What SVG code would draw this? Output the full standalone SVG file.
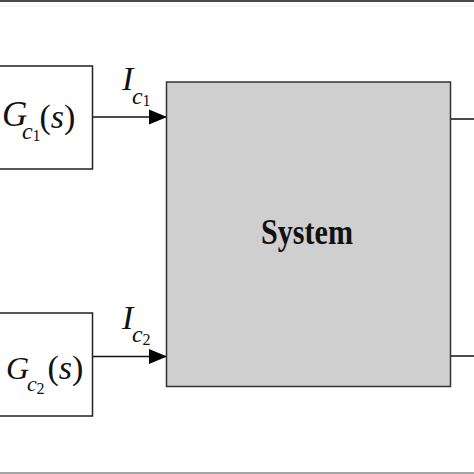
<svg xmlns="http://www.w3.org/2000/svg" width="474" height="474" viewBox="0 0 474 474">
<style>
.box{fill:#ffffff;stroke:#222222;stroke-width:1.5}
.sys{fill:#cfcfcf;stroke:#333333;stroke-width:1.5}
.wire{fill:none;stroke:#111111;stroke-width:1.5}
.t{font-family:"Liberation Serif","Times New Roman",serif;fill:#111111}
.i{font-style:italic}
.b{font-weight:bold}
</style>
<defs>
<marker id="arr" markerUnits="userSpaceOnUse" markerWidth="18" markerHeight="16" refX="17" refY="7.5" orient="auto" viewBox="0 0 18 15">
<path d="M0,0 L18,7.5 L0,15 Z" fill="#000000"/>
</marker>
</defs>
<rect x="0" y="0" width="474" height="474" fill="#ffffff"/>
<rect x="0" y="0" width="474" height="2" fill="#4a4a4a"/>
<rect x="0" y="5.5" width="474" height="1" fill="#f3f3f3"/>
<rect x="0" y="472" width="474" height="2" fill="#a6a6a6"/>

<g id="connectors">
<line class="wire" x1="92.5" y1="117" x2="166" y2="117" marker-end="url(#arr)"/>
<line class="wire" x1="92.5" y1="356.5" x2="166" y2="356.5" marker-end="url(#arr)"/>
<line class="wire" x1="450.5" y1="119" x2="474" y2="119"/>
<line class="wire" x1="450.5" y1="356" x2="474" y2="356"/>
<text id="label-ic1" class="t" x="122" y="90"><tspan class="i" font-size="34">I</tspan><tspan class="i" x="132" y="104" font-size="24">c</tspan><tspan x="142.5" y="106" font-size="16">1</tspan></text>
<text id="label-ic2" class="t" x="122" y="329"><tspan class="i" font-size="34">I</tspan><tspan class="i" x="132" y="342" font-size="24">c</tspan><tspan x="142.5" y="345" font-size="16">2</tspan></text>
</g>

<g id="gc1">
<rect class="box" x="-2" y="66" width="94.5" height="103"/>
<text class="t" x="2" y="126"><tspan class="i" font-size="35">G</tspan><tspan class="i" x="22" y="139" font-size="24">c</tspan><tspan x="32.5" y="141" font-size="16">1</tspan><tspan x="39.5" y="128" font-size="34">(</tspan><tspan class="i" font-size="34">s</tspan><tspan font-size="34">)</tspan></text>
</g>

<g id="gc2">
<rect class="box" x="-2" y="313" width="94.5" height="103"/>
<text class="t" x="6" y="379"><tspan class="i" font-size="32">G</tspan><tspan class="i" x="27" y="391" font-size="22">c</tspan><tspan x="36.5" y="394" font-size="16">2</tspan><tspan x="47.5" y="379" font-size="34">(</tspan><tspan class="i" font-size="34">s</tspan><tspan font-size="34">)</tspan></text>
</g>

<g id="system">
<rect class="sys" x="166.5" y="82" width="284" height="304.5"/>
<text class="t b" x="261" y="244" font-size="36" textLength="92" lengthAdjust="spacingAndGlyphs">System</text>
</g>
</svg>
